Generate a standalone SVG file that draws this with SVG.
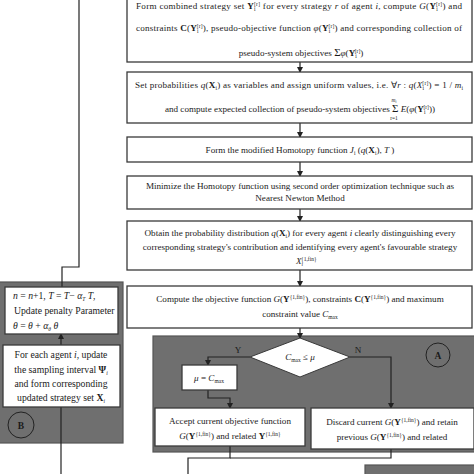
<svg xmlns="http://www.w3.org/2000/svg" width="474" height="474" viewBox="0 0 474 474">
<defs>
<style>
text{font-family:"Liberation Serif","Times New Roman",serif;font-size:9.1px;fill:#1a1a1a}
.m{text-anchor:middle}
.b{font-weight:bold}
.i{font-style:italic}
.s{font-size:5.5px}
.bt{font-size:9.7px}
.box{fill:#fff;stroke:#3a3a3a;stroke-width:1.3}
.gray{fill:#6f6f6f;stroke:#555;stroke-width:1.2}
.ln{fill:none;stroke:#222;stroke-width:1.2}
.circ{fill:none;stroke:#222;stroke-width:1}
</style>
<marker id="ah" markerWidth="6" markerHeight="6" refX="5" refY="3" orient="auto" markerUnits="userSpaceOnUse">
<path d="M0,0 L6,3 L0,6 z" fill="#222"/>
</marker>
</defs>

<g id="regionA"><rect class="gray" x="153" y="336" width="324" height="116"/>
<circle class="circ" cx="438" cy="355" r="12"/><text class="m b" x="438" y="358.5" style="font-size:9.5px">A</text></g>
<g id="regionB"><rect class="gray" x="-2" y="282" width="125" height="161"/>
<circle class="circ" cx="21" cy="425" r="13"/><text class="m b" x="21" y="428.5" style="font-size:9.5px">B</text></g>

<g id="connectors">
<line class="ln" x1="300" y1="62" x2="300" y2="72" marker-end="url(#ah)"/>
<line class="ln" x1="300" y1="123" x2="300" y2="137" marker-end="url(#ah)"/>
<line class="ln" x1="300" y1="162" x2="300" y2="176" marker-end="url(#ah)"/>
<line class="ln" x1="300" y1="209" x2="300" y2="221" marker-end="url(#ah)"/>
<line class="ln" x1="300" y1="270" x2="300" y2="286" marker-end="url(#ah)"/>
<line class="ln" x1="300" y1="328" x2="300" y2="338" marker-end="url(#ah)"/>
<polyline class="ln" points="250,357 208,357 208,365" marker-end="url(#ah)"/>
<polyline class="ln" points="208,390 208,398 230,398 230,408" marker-end="url(#ah)"/>
<polyline class="ln" points="350,357 391,357 391,408" marker-end="url(#ah)"/>
<polyline class="ln" points="230,446 230,458 188,458 188,476"/>
<polyline class="ln" points="391,449 391,458 230,458"/>
<line class="ln" x1="61" y1="407" x2="61" y2="476"/>
<line class="ln" x1="61" y1="345" x2="61" y2="334" marker-end="url(#ah)"/>
<polyline class="ln" points="62,287 62,267 79,267 79,-2"/>
<text x="238" y="353" class="m">Y</text>
<text x="358" y="353" class="m">N</text>
</g>

<g id="box1"><rect class="box" x="127" y="-5" width="345" height="67"/>
<text x="136" y="9" textLength="326" lengthAdjust="spacing">Form combined strategy set <tspan class="b">Y</tspan><tspan class="s" dy="2">i</tspan><tspan class="s" dx="-2" dy="-5.5">[r]</tspan><tspan dy="3.5"> for every strategy </tspan><tspan class="i">r</tspan> of agent <tspan class="i">i</tspan>, compute <tspan class="i">G</tspan>(<tspan class="b">Y</tspan><tspan class="s" dy="2">i</tspan><tspan class="s" dx="-2" dy="-5.5">[r]</tspan><tspan dy="3.5">) and</tspan></text>
<text x="136" y="31" textLength="326" lengthAdjust="spacing">constraints <tspan class="b">C</tspan>(<tspan class="b">Y</tspan><tspan class="s" dy="2">i</tspan><tspan class="s" dx="-2" dy="-5.5">[r]</tspan><tspan dy="3.5">), pseudo-objective function </tspan><tspan class="i">φ</tspan>(<tspan class="b">Y</tspan><tspan class="s" dy="2">i</tspan><tspan class="s" dx="-2" dy="-5.5">[r]</tspan><tspan dy="3.5">) and corresponding collection of</tspan></text>
<text x="301" y="56" class="m">pseudo-system objectives <tspan style="font-size:11px">Σ</tspan><tspan class="i">φ</tspan>(<tspan class="b">Y</tspan><tspan class="s" dy="2">i</tspan><tspan class="s" dx="-2" dy="-5.5">[r]</tspan><tspan dy="3.5">)</tspan></text>
</g>

<g id="box2"><rect class="box" x="127" y="72" width="345" height="51"/>
<text x="135" y="88" textLength="328" lengthAdjust="spacing">Set probabilities <tspan class="i">q</tspan>(<tspan class="b">X</tspan><tspan class="s" dy="2">i</tspan><tspan dy="-2">) as variables and assign uniform values, i.e. ∀</tspan><tspan class="i">r</tspan> : <tspan class="i">q</tspan>(<tspan class="i">X</tspan><tspan class="s" dy="2">i</tspan><tspan class="s" dx="-2" dy="-5.5">[r]</tspan><tspan dy="3.5">) = 1 / </tspan><tspan class="i">m</tspan><tspan class="s" dy="2">i</tspan></text>
<text x="300" y="112" class="m">and compute expected collection of pseudo-system objectives <tspan style="font-size:11px">Σ</tspan> <tspan class="i">E</tspan>(<tspan class="i">φ</tspan>(<tspan class="b">Y</tspan><tspan class="s" dy="2">i</tspan><tspan class="s" dx="-2" dy="-5.5">[r]</tspan><tspan dy="3.5">))</tspan></text>
<text x="394" y="102" class="s i m">m<tspan dy="1" style="font-size:3.5px">i</tspan></text>
<text x="394" y="120" class="s m">r=1</text>
</g>

<g id="box3"><rect class="box" x="127" y="137" width="345" height="25"/>
<text x="300" y="152.5" class="m">Form the modified Homotopy function <tspan class="i">J</tspan><tspan class="s" dy="2">i</tspan><tspan dy="-2"> (</tspan><tspan class="i">q</tspan>(<tspan class="b">X</tspan><tspan class="s" dy="2">i</tspan><tspan dy="-2">), </tspan><tspan class="i">T</tspan> )</text>
</g>

<g id="box4"><rect class="box" x="127" y="176" width="345" height="33"/>
<text x="300" y="189" class="m">Minimize the Homotopy function using second order optimization technique such as</text>
<text x="300" y="201" class="m">Nearest Newton Method</text>
</g>

<g id="box5"><rect class="box" x="127" y="221" width="345" height="49"/>
<text x="300" y="236" class="m">Obtain the probability distribution <tspan class="i">q</tspan>(<tspan class="b">X</tspan><tspan class="s" dy="2">i</tspan><tspan dy="-2">) for every agent </tspan><tspan class="i">i</tspan> clearly distinguishing every</text>
<text x="300" y="250" class="m">corresponding strategy's contribution and identifying every agent's favourable strategy</text>
<text x="296" y="264" class="i">X<tspan class="s" dy="2">i</tspan><tspan class="s" dx="-2" dy="-5.5" style="font-style:normal">{1,fin}</tspan></text>
</g>

<g id="box6"><rect class="box" x="127" y="286" width="345" height="42"/>
<text x="300" y="302" class="m">Compute the objective function <tspan class="i">G</tspan>(<tspan class="b">Y</tspan><tspan class="s" dy="-3">{1,fin}</tspan><tspan dy="3">), constraints </tspan><tspan class="b">C</tspan>(<tspan class="b">Y</tspan><tspan class="s" dy="-3">{1,fin}</tspan><tspan dy="3">) and maximum</tspan></text>
<text x="300" y="317" class="m">constraint value <tspan class="i">C</tspan><tspan class="s" dy="2">max</tspan></text>
</g>

<g id="decision"><polygon points="300,338 350,357 300,377 250,357" fill="#fff" stroke="#3a3a3a" stroke-width="1"/>
<text x="300" y="360" class="m"><tspan class="i">C</tspan><tspan class="s" dy="2">max</tspan><tspan dy="-2"> ≤ </tspan><tspan class="i">μ</tspan></text>
</g>

<g id="mubox"><rect class="box" x="182" y="365" width="55" height="25"/>
<text x="209" y="380.5" class="m"><tspan class="i">μ</tspan> = <tspan class="i">C</tspan><tspan class="s" dy="2">max</tspan></text>
</g>

<g id="accept"><rect class="box" x="155" y="408" width="150" height="38"/>
<text x="230" y="424" class="m">Accept current objective function</text>
<text x="230" y="439" class="m"><tspan class="i">G</tspan>(<tspan class="b">Y</tspan><tspan class="s" dy="-3">{1,fin}</tspan><tspan dy="3">) and related </tspan><tspan class="b">Y</tspan><tspan class="s" dy="-3">{1,fin}</tspan></text>
</g>

<g id="discard"><rect class="box" x="311" y="408" width="163" height="41"/>
<text x="392" y="425" class="m">Discard current <tspan class="i">G</tspan>(<tspan class="b">Y</tspan><tspan class="s" dy="-3">{1,fin}</tspan><tspan dy="3">) and retain</tspan></text>
<text x="392" y="440" class="m">previous <tspan class="i">G</tspan>(<tspan class="b">Y</tspan><tspan class="s" dy="-3">{1,fin}</tspan><tspan dy="3">) and related</tspan></text>
</g>

<g id="bottomBox"><rect class="gray" x="365" y="465" width="112" height="14"/></g>

<g id="updateBox"><rect class="box" x="5" y="287" width="113" height="47"/>
<text x="13" y="299" class="bt"><tspan class="i">n</tspan> = <tspan class="i">n</tspan>+1, <tspan class="i">T</tspan> = <tspan class="i">T</tspan>− <tspan class="i">α</tspan><tspan class="s i" dy="2">T</tspan><tspan class="i" dy="-2"> T</tspan>,</text>
<text x="14" y="314" class="bt">Update penalty Parameter</text>
<text x="13" y="329" class="bt"><tspan class="i">θ</tspan> = <tspan class="i">θ</tspan> + <tspan class="i">α</tspan><tspan class="s i" dy="2">θ</tspan><tspan class="i" dy="-2"> θ</tspan></text>
</g>

<g id="agentBox"><rect class="box" x="3" y="345" width="117" height="62"/>
<text x="61" y="358" class="m bt">For each agent <tspan class="i">i</tspan>, update</text>
<text x="61" y="373" class="m bt">the sampling interval <tspan class="b">Ψ</tspan><tspan class="s i" dy="2">i</tspan></text>
<text x="61" y="387" class="m bt">and  form corresponding</text>
<text x="61" y="401" class="m bt">updated strategy set  <tspan class="b">X</tspan><tspan class="s i" dy="2">i</tspan></text>
</g>
</svg>
